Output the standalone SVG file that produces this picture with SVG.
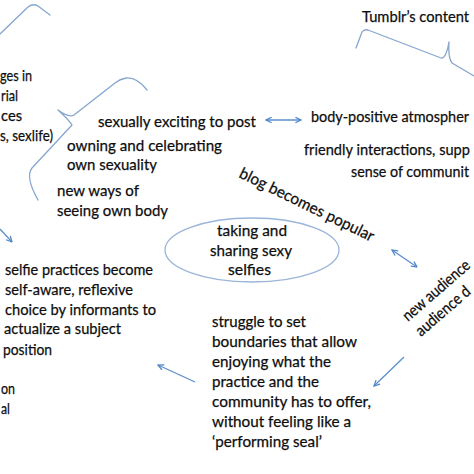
<svg xmlns="http://www.w3.org/2000/svg" width="474" height="474" viewBox="0 0 474 474">
<defs>
<style>
text{font-family:Lato,"Open Sans","Liberation Sans",sans-serif;font-size:16px;fill:#0d0d0d;stroke:#0d0d0d;stroke-width:0.25}
.brace{fill:none;stroke:#86a6cf;stroke-width:1.3;stroke-linecap:round;stroke-linejoin:round}
.arr{fill:none;stroke:#5a8fcc;stroke-width:1.3}
.ell{fill:none;stroke:#9ab5d8;stroke-width:1.3}
</style>
<marker id="ah" viewBox="0 0 10 10" refX="9" refY="5" markerWidth="7" markerHeight="7" orient="auto-start-reverse" markerUnits="userSpaceOnUse">
<path d="M1,1 L9,5 L1,9" fill="none" stroke="#4f86c8" stroke-width="1.8" stroke-linejoin="miter"/>
</marker>
</defs>
<rect width="474" height="474" fill="#ffffff"/>

<g id="connectors">
<path class="brace" d="M0,34 L28,7 Q33,3 38,6 L50,15"/>
<path class="brace" d="M147,90 Q137,77 126,78 Q120,79 115,83 L74,115 Q69,118 58,110 Q69,120 72,125 L32,168 Q25,177 38,200"/>
<path class="brace" d="M356,48 L362,32 Q364,29 368,30 L441,58 Q446,59 449,42 Q448,58 452,63 L474,76"/>
<line class="arr" x1="266" y1="120" x2="301" y2="120" marker-start="url(#ah)" marker-end="url(#ah)"/>
<line class="arr" x1="0" y1="229" x2="12" y2="242" marker-end="url(#ah)"/>
<line class="arr" x1="392" y1="250" x2="417" y2="267" marker-start="url(#ah)" marker-end="url(#ah)"/>
<line class="arr" x1="404" y1="357" x2="374" y2="386" marker-end="url(#ah)"/>
<line class="arr" x1="195" y1="382" x2="158" y2="365" marker-end="url(#ah)"/>
</g>

<g id="material-changes">
<text x="0" y="81" textLength="32" lengthAdjust="spacingAndGlyphs">ges in</text>
<text x="1" y="101" textLength="17" lengthAdjust="spacingAndGlyphs">rial</text>
<text x="1" y="121" textLength="21" lengthAdjust="spacingAndGlyphs">ces</text>
<text x="0" y="141" textLength="53" lengthAdjust="spacingAndGlyphs">s, sexlife)</text>
</g>

<g id="tumblr-content">
<text x="362" y="22" textLength="107" lengthAdjust="spacingAndGlyphs">Tumblr’s content</text>
</g>

<g id="sexually-exciting">
<text x="98" y="127" textLength="158" lengthAdjust="spacingAndGlyphs">sexually exciting to post</text>
</g>

<g id="owning">
<text x="67" y="151" textLength="155" lengthAdjust="spacingAndGlyphs">owning and celebrating</text>
<text x="67" y="170" textLength="90" lengthAdjust="spacingAndGlyphs">own sexuality</text>
</g>

<g id="new-ways">
<text x="57" y="196" textLength="82" lengthAdjust="spacingAndGlyphs">new ways of</text>
<text x="57" y="216" textLength="111" lengthAdjust="spacingAndGlyphs">seeing own body</text>
</g>

<g id="body-positive">
<text x="311" y="122" textLength="158" lengthAdjust="spacingAndGlyphs">body-positive atmospher</text>
</g>

<g id="friendly">
<text x="304" y="155" textLength="166" lengthAdjust="spacingAndGlyphs">friendly interactions, supp</text>
<text x="351" y="177" textLength="118" lengthAdjust="spacingAndGlyphs">sense of communit</text>
</g>

<g id="blog-popular">
<text transform="translate(238,177) rotate(26)" x="0" y="0" textLength="148" lengthAdjust="spacingAndGlyphs">blog becomes popular</text>
</g>

<g id="taking-sharing">
<ellipse class="ell" cx="252" cy="250" rx="87" ry="32"/>
<text x="217" y="236" textLength="70" lengthAdjust="spacingAndGlyphs">taking and</text>
<text x="210" y="256" textLength="82" lengthAdjust="spacingAndGlyphs">sharing sexy</text>
<text x="228" y="275" textLength="43" lengthAdjust="spacingAndGlyphs">selfies</text>
</g>

<g id="new-audience">
<g transform="translate(408,322) rotate(-41)">
<text x="0" y="0" textLength="84" lengthAdjust="spacingAndGlyphs">new audience</text>
<text x="0" y="20" textLength="67" lengthAdjust="spacingAndGlyphs">audience d</text>
</g>
</g>

<g id="selfie-practices">
<text x="5" y="275" textLength="148" lengthAdjust="spacingAndGlyphs">selfie practices become</text>
<text x="5" y="295" textLength="128" lengthAdjust="spacingAndGlyphs">self-aware, reflexive</text>
<text x="5" y="315" textLength="151" lengthAdjust="spacingAndGlyphs">choice by informants to</text>
<text x="4" y="334" textLength="117" lengthAdjust="spacingAndGlyphs">actualize a subject</text>
<text x="3" y="355" textLength="49" lengthAdjust="spacingAndGlyphs">position</text>
</g>

<g id="on-al">
<text x="1" y="394" textLength="14" lengthAdjust="spacingAndGlyphs">on</text>
<text x="1" y="414" textLength="9" lengthAdjust="spacingAndGlyphs">al</text>
</g>

<g id="struggle">
<text x="212" y="327" textLength="94" lengthAdjust="spacingAndGlyphs">struggle to set</text>
<text x="212" y="347" textLength="145" lengthAdjust="spacingAndGlyphs">boundaries that allow</text>
<text x="212" y="367" textLength="119" lengthAdjust="spacingAndGlyphs">enjoying what the</text>
<text x="212" y="387" textLength="107" lengthAdjust="spacingAndGlyphs">practice and the</text>
<text x="212" y="407" textLength="159" lengthAdjust="spacingAndGlyphs">community has to offer,</text>
<text x="212" y="427" textLength="139" lengthAdjust="spacingAndGlyphs">without feeling like a</text>
<text x="212" y="447" textLength="110" lengthAdjust="spacingAndGlyphs">‘performing seal’</text>
</g>
</svg>
